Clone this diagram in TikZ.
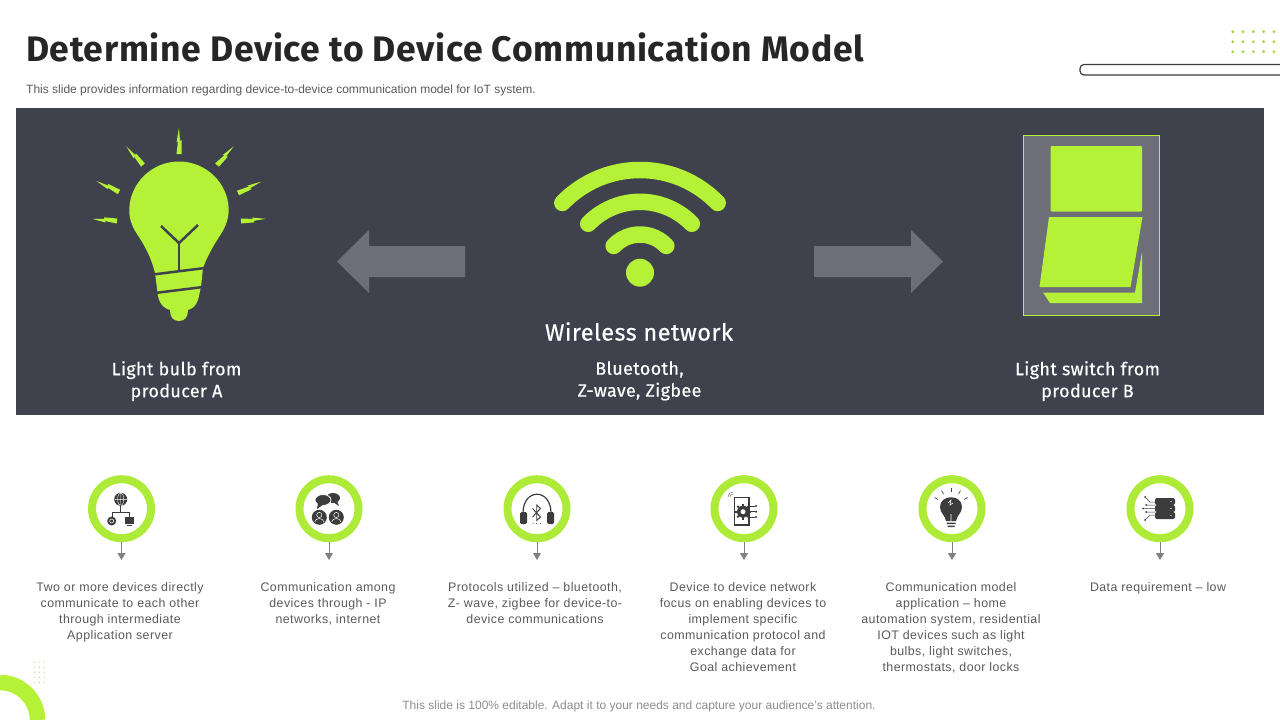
\documentclass[tikz,border=0pt]{standalone}
\usepackage{fontspec}
\setmainfont{Liberation Sans}
\newfontfamily\titlefont[LetterSpace=1.9]{Fira Sans}
\newfontfamily\labelfont[LetterSpace=2,FakeBold=0.35]{Fira Sans}
\newfontfamily\bodyfont[LetterSpace=3.5]{Liberation Sans}
\usetikzlibrary{arrows.meta,positioning,calc}
\definecolor{lime}{HTML}{B5F136}
\definecolor{ringlime}{HTML}{AEEB38}
\definecolor{slate}{HTML}{3F424D}
\definecolor{ash}{HTML}{6D6E78}
\definecolor{ink}{HTML}{3C3C3C}
\definecolor{bodygray}{HTML}{595959}

\begin{document}
\begin{tikzpicture}[x=1pt,y=-1pt,
ring/.style={circle, draw=ringlime, line width=8pt, fill=white, minimum size=59pt, inner sep=0pt},
drop/.style={draw=gray, line width=0.8pt, -{Triangle[length=7pt,width=8pt]}},
body/.style={align=center, anchor=north, text=bodygray, font=\bodyfont\fontsize{12.4}{16}\selectfont},
panellabel/.style={align=center, anchor=north, text=white, font=\labelfont\fontsize{18}{22}\selectfont},
bigarrow/.style={fill=ash},
dots/.style={fill=#1, draw=none}]
\useasboundingbox (0,0) rectangle (1280,720);

% header
\node[anchor=west, inner sep=0pt, text=black!85, font=\titlefont\bfseries\fontsize{35.5}{40}\selectfont] (title) at (26,47.5) {Determine Device to Device Communication Model};
\node[anchor=west, inner sep=0pt, text=bodygray, font=\fontsize{12}{14}\selectfont] (subtitle) at (26,90) {This slide provides information regarding device-to-device communication model for IoT system.};
\foreach \i in {0,...,4} \foreach \j in {0,1,2}
  \fill[dots={lime!75!gray}] (1232.7+10.3*\i,31.7+10*\j) circle (1.6);
\draw[ink, line width=1.2pt, fill=white, rounded corners=4pt] (1295,64.5) -- (1080,64.5) -- (1080,75) -- (1295,75);

% corner
\draw[lime, line width=15.5pt] (0,682.5) arc[start angle=-90,end angle=0,radius=37.5];
\foreach \i in {0,1,2} \foreach \j in {0,...,4}
  \fill[dots={lime!60!gray!60}] (34.3+5*\i,662.3+5*\j) circle (0.8);

% panel
\node[fill=slate, inner sep=0pt, minimum width=1248pt, minimum height=307pt] (panel) at (640,261.5) {};

% bulb
\fill[lime] (155,273) .. controls (151,257) and (145,246) .. (137,234)
  .. controls (131,225) and (129,217) .. (129.3,209)
  .. controls (130,183) and (152,161.5) .. (179,161.5)
  .. controls (206,161.5) and (228,183) .. (228.7,209)
  .. controls (229,217) and (226,226) .. (221,234)
  .. controls (213,246) and (207,257) .. (203,268)
  -- (201,287) -- (198,300) .. controls (196,306) and (192,309) .. (188,310)
  .. controls (188,317) and (185,321) .. (179,321)
  .. controls (173,321) and (170,317) .. (170,310)
  .. controls (166,309) and (160,306) .. (158,296) -- cycle;
\draw[slate, line width=2.5pt] (153,274.5) -- (205,268);
\draw[slate, line width=2.5pt] (155,293) -- (203,287);
\draw[slate, line width=2.5pt] (161,226) -- (179,243) -- (198,225);
\draw[slate, line width=2.5pt] (179,243) -- (179,271);
\foreach \px/\py/\ang/\len in {179/154/90/26, 143/165/132/25, 217/165/48/25, 119/192/154/25, 238/193/26/26, 117/221/175/25, 241/221/5/25}
  \fill[lime, shift={(\px,\py)}, rotate=\ang, xscale=\len/26]
    (0,-2.5) -- (13,-1) -- (11.5,-2.5) -- (26,0) -- (13,1) -- (14,2.5) -- (0,2.5) -- cycle;

% arrows
\fill[bigarrow] (465,246) -- (369,246) -- (369,230) -- (337,261.5) -- (369,293) -- (369,277) -- (465,277) -- cycle;
\fill[bigarrow] (814,246) -- (911,246) -- (911,230) -- (943,261.5) -- (911,293) -- (911,277) -- (814,277) -- cycle;

% wifi
\foreach \rad/\ang/\cy in {108/44/278, 72/44/273.8, 36/43/270.5}
  \draw[lime, line width=16.5pt, line cap=round] (640,\cy) ++(-\ang:\rad) arc[start angle=-\ang, end angle=-180+\ang, radius=\rad];
\fill[lime] (640,272.7) circle (14);

% switch
\draw[lime, line width=1pt, fill=ash] (1023,135) rectangle (1159,315);
\fill[lime, rounded corners=1pt] (1050.5,146) rectangle (1142,211.5);
\fill[lime] (1043,292.5) -- (1135,292.5) -- (1142,252) -- (1142,303) -- (1050,303) -- cycle;
\fill[lime] (1049,217) -- (1142.5,217) -- (1130.5,287) -- (1039.5,287) -- cycle;

\node[panellabel, inner sep=0pt] (bulblabel) at (176.5,361) {Light bulb from\\producer A};
\node[panellabel, inner sep=0pt, font=\labelfont\fontsize{23.5}{28}\selectfont] (wifititle) at (639,322) {Wireless network};
\node[panellabel, inner sep=0pt] (wifilabel) at (639.5,361) {Bluetooth,\\Z-wave, Zigbee};
\node[panellabel, inner sep=0pt] (switchlabel) at (1087.5,361) {Light switch from\\producer B};

% rings and texts
\foreach \n/\cx in {1/121.5, 2/329, 3/537, 4/744, 5/952, 6/1160} {
  \node[ring] (ring\n) at (\cx,508.7) {};
  \coordinate (tip\n) at (\cx,560);
  \draw[drop] (ring\n.south) -- (tip\n);
}
\node[body] (text1) at (120,579) {Two or more devices directly\\communicate to each other\\through intermediate\\Application server};
\node[body] (text2) at (328,579) {Communication among\\devices through -  IP\\networks, internet};
\node[body] (text3) at (535,579) {Protocols utilized – bluetooth,\\Z- wave,  zigbee for device-to-\\device  communications};
\node[body] (text4) at (743,579) {Device to device network\\focus on enabling devices to\\implement specific\\communication protocol and\\exchange data for\\Goal achievement};
\node[body] (text5) at (951,579) {Communication model\\application – home\\automation system, residential\\IOT devices such as light\\bulbs, light switches,\\thermostats, door locks};
\node[body] (text6) at (1158,579) {Data requirement – low};
\node[anchor=center, inner sep=0pt, text=gray!90, font=\fontsize{12}{14}\selectfont] (footer) at (639,706) {This slide is 100\% editable. Adapt it to your needs and capture your audience's attention.};

% icon 1
\fill[ink] (120.7,499.3) circle (6.5);
\draw[white, line width=0.4pt] (120.7,493) -- (120.7,506) (114.5,499.3) -- (127,499.3) (120.7,499.3) ellipse (3 and 6.5);
\draw[ink, line width=0.5pt] (120.7,505) -- (120.7,512) (112,517) -- (112,512) -- (129,512) -- (129,517);
\fill[ink] (111.7,521) circle (4.5);
\draw[white, line width=0.5pt] (111.7,521) circle (2);
\fill[ink] (124.5,516.5) rectangle (134,524);
\draw[ink, line width=0.8pt] (126.5,525.5) -- (132,525.5);
% icon 2
\fill[ink] (333,498) ellipse (7 and 5) (337,501) -- (339,506) -- (333,502) -- cycle;
\draw[white, line width=0.8pt, fill=ink] (323,500) ellipse (8 and 5.5);
\fill[ink] (318,503) -- (317,509) -- (324,504) -- cycle;
\foreach \cx in {319.3,336.3} {
  \fill[ink] (\cx,517.3) circle (7.5);
  \draw[white, line width=0.5pt] (\cx,515) circle (2.6) (\cx-4.5,522) arc[start angle=180,end angle=360,x radius=4.5,y radius=3.5];
}
% icon 3
\draw[ink, line width=1.2pt] (523,513) .. controls (523,488) and (551,488) .. (551,513);
\fill[ink, rounded corners=1.5pt] (520,512) rectangle (527,524) (547,512) rectangle (554,524);
\draw[ink, line width=0.9pt] (532.5,508.5) -- (540.5,517) -- (536.7,520.5) -- (536.7,505) -- (540.5,508.5) -- (532.5,517);
\fill[ink] (533,523.5) circle (0.5) (536.7,523.5) circle (0.5) (540.4,523.5) circle (0.5);
% icon 4
\draw[ink, line width=1.5pt] (734.5,497.5) rectangle (749,525);
\fill[white] (736,519) rectangle (748,521);
\fill[ink] (743,511.7) circle (6);
\fill[white] (743,511.7) circle (2.5);
\foreach \ang in {0,45,...,315}
  \draw[ink, line width=1.8pt] (743,511.7) ++(\ang:4.5) -- ++(\ang:3.5);
\draw[ink, line width=0.6pt] (750,506) -- (755,506) (750,511.7) -- (755,511.7) (750,517) -- (755,517);
\fill[ink] (756,506) circle (1.2) (756,511.7) circle (1.2) (756,517) circle (1.2);
\draw[gray, line width=0.6pt] (730,497) arc[start angle=180,end angle=270,radius=3] (728,497) arc[start angle=180,end angle=270,radius=5];
% icon 5
\fill[ink] (946,521) .. controls (945,515) and (940,513) .. (940,507)
  .. controls (940,494) and (962,494) .. (962,507)
  .. controls (962,513) and (957,515) .. (956,521) -- cycle;
\fill[ink] (946.5,522.5) rectangle (955.5,524) (947.5,525.5) rectangle (954.5,527);
\draw[white, line width=0.6pt] (951,514) -- (951,521) (948,503) -- (951,500) -- (950,505) -- (953,503);
\foreach \ang in {30,60,90,120,150}
  \draw[ink, line width=0.6pt] (951,507) ++(-\ang:15) -- ++(-\ang:4);
% icon 6
\foreach \yy in {498,505,512} {
  \fill[ink, rounded corners=2pt] (1155,\yy) rectangle (1175,\yy+7);
  \fill[white] (1171,\yy+3.5) circle (0.7);
}
\draw[ink, line width=0.5pt] (1155,502) -- (1150,502) -- (1145,497) (1155,505) -- (1146,505) (1155,508.5) -- (1143,508.5) (1155,512) -- (1146,512) (1155,515) -- (1150,515) -- (1145,520);
\foreach \xx/\yy in {1145/497, 1146/505, 1143/508.5, 1146/512, 1145/520}
  \fill[ink] (\xx,\yy) circle (1);
\end{tikzpicture}
\end{document}
